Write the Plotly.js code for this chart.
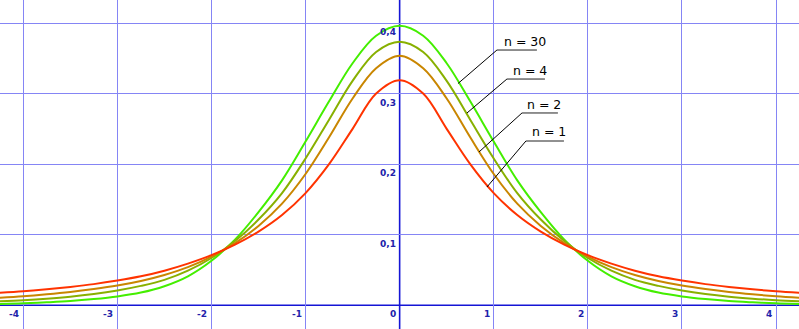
<!DOCTYPE html>
<html><head><meta charset="utf-8">
<script src="https://cdn.plot.ly/plotly-3.0.1.min.js"></script>
<style>html,body{margin:0;padding:0;background:#fff}#c{width:799px;height:329px}</style>
</head><body><div id="c"></div>
<script>
// x positions where densities were read
const xs = [-4.25,-4,-3.75,-3.5,-3.25,-3,-2.75,-2.5,-2.25,-2,-1.75,-1.5,-1.25,-1,-0.75,-0.5,-0.25,0,0.25,0.5,0.75,1,1.25,1.5,1.75,2,2.25,2.5,2.75,3,3.25,3.5,3.75,4,4.25];
// half-curves (x = 0 .. 4.25), mirrored for negative x
const n1Half  = [0.319,0.300,0.250,0.200,0.159,0.128,0.1045,0.086,0.071,0.059,0.049,0.041,0.035,0.030,0.026,0.0226,0.0198,0.0176];
const n2Half  = [0.3537,0.336,0.293,0.238,0.186,0.144,0.1125,0.088,0.069,0.054,0.043,0.0345,0.028,0.023,0.0188,0.0155,0.0128,0.0107];
const n4Half  = [0.3735,0.359,0.318,0.263,0.208,0.159,0.1215,0.091,0.067,0.049,0.036,0.0275,0.021,0.016,0.0122,0.0094,0.0073,0.0058];
const n30Half = [0.396,0.382,0.343,0.289,0.232,0.177,0.132,0.093,0.063,0.041,0.027,0.018,0.0125,0.0088,0.006,0.0042,0.0028,0.0019];
const seriesNames = ['n = 1','n = 2','n = 4','n = 30'];
const xTickVals = [-4,-3,-2,-1,0,1,2,3,4];
const xTickText = ['-4','-3','-2','-1','0','1','2','3','4'];
const yTickVals = [0.1,0.2,0.3,0.4];
const yTickText = ['0,1','0,2','0,3','0,4'];

function full(h){ return h.slice(1).reverse().concat(h); }
const halves = [n1Half,n2Half,n4Half,n30Half];
const colors = ['#ff3300','#c98600','#88b000','#44ee00'];

// label placement (style/layout)
const labelText = [[1.584,0.2460],[1.533,0.2852],[1.385,0.3324],[1.328,0.3731]];
const underline = [[1.342,1.746,0.2328],[1.300,1.682,0.2725],[1.140,1.544,0.3206],[1.034,1.459,0.3617]];
const leaderEnd = [[0.928,0.1676],[0.843,0.2172],[0.715,0.2724],[0.620,0.3142]];

const traces = [];
[3,2,1,0].forEach(i=>{
  traces.push({x:xs,y:full(halves[i]),type:'scatter',mode:'lines',name:seriesNames[i],
    line:{color:colors[i],width:2,shape:'spline',smoothing:1},hoverinfo:'skip'});
});
const tickFont = {family:'DejaVu Sans',size:9,color:'#2222aa',weight:'bold'};
const ann = [];
xTickVals.forEach((v,i)=>ann.push({x:v,y:0,xref:'x',yref:'y',text:xTickText[i],showarrow:false,
  xanchor:'right',yanchor:'middle',xshift:-2,yshift:-9,font:tickFont}));
yTickVals.forEach((v,i)=>ann.push({x:0,y:v,xref:'x',yref:'y',text:yTickText[i],showarrow:false,
  xanchor:'right',yanchor:'middle',xshift:-2,yshift:-9,font:tickFont}));
const shapes = [
  {type:'line',xref:'paper',yref:'y',x0:0,x1:1,y0:0,y1:0,layer:'below',line:{color:'#1515d5',width:1.6}},
  {type:'line',xref:'x',yref:'paper',x0:0,x1:0,y0:0,y1:1,layer:'below',line:{color:'#1515d5',width:1.6}}
];
seriesNames.forEach((s,i)=>{
  ann.push({x:labelText[i][0],y:labelText[i][1],xref:'x',yref:'y',text:s,showarrow:false,
    xanchor:'center',yanchor:'middle',font:{family:'DejaVu Sans',size:12.5,color:'#000'}});
  shapes.push({type:'line',xref:'x',yref:'y',x0:underline[i][0],x1:underline[i][1],y0:underline[i][2],y1:underline[i][2],line:{color:'#222',width:1}});
  shapes.push({type:'line',xref:'x',yref:'y',x0:underline[i][0],y0:underline[i][2],x1:leaderEnd[i][0],y1:leaderEnd[i][1],line:{color:'#000',width:1}});
});
const layout = {
  width:799,height:329,margin:{l:0,r:0,t:0,b:0},paper_bgcolor:'#fff',plot_bgcolor:'#fff',showlegend:false,
  xaxis:{range:[-4.247,4.244],tickvals:xTickVals.filter(v=>v!==0),showticklabels:false,showgrid:true,gridcolor:'#8585f5',gridwidth:1,
    zeroline:false,showline:false,fixedrange:true},
  yaxis:{range:[-0.0336,0.4326],tickvals:yTickVals,showticklabels:false,showgrid:true,gridcolor:'#8585f5',gridwidth:1,
    zeroline:false,showline:false,fixedrange:true},
  annotations:ann,shapes:shapes
};
Plotly.newPlot('c',traces,layout,{staticPlot:true});
</script></body></html>
